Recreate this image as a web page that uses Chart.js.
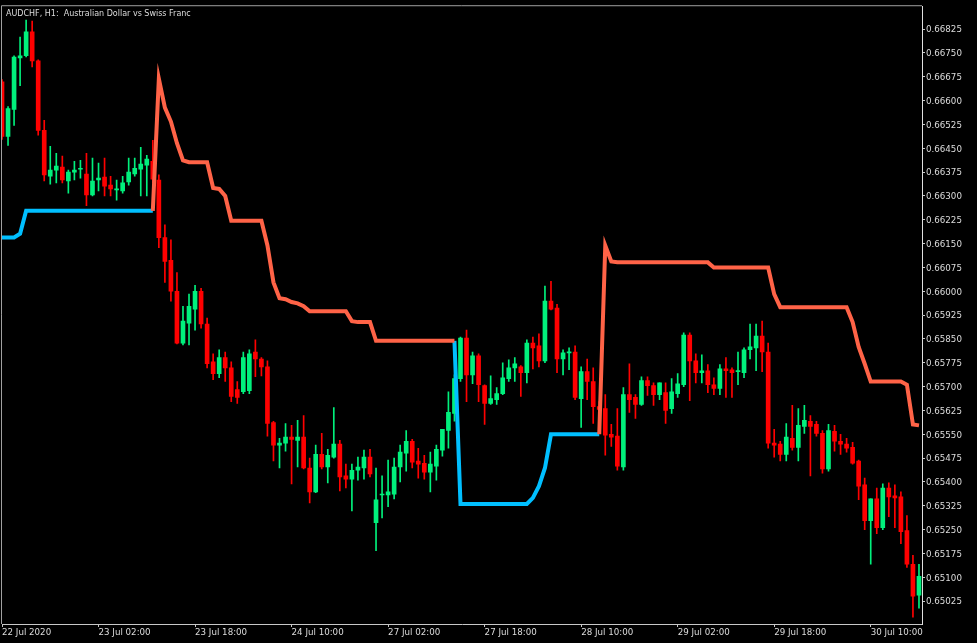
<!DOCTYPE html>
<html>
<head>
<meta charset="utf-8">
<title>AUDCHF H1</title>
<script src="https://cdn.jsdelivr.net/npm/chart.js@4.4.1/dist/chart.umd.min.js"></script>
<style>
html,body{margin:0;padding:0;background:#000;overflow:hidden;}
canvas{display:block;}
</style>
</head>
<body>
<canvas id="chart" width="977" height="643"></canvas>
<script>
const chartTitle = 'AUDCHF, H1:  Australian Dollar vs Swiss Franc';

const opens = [
0.66659,0.66487,0.66572,0.66734,0.66741,0.66816,0.66725,0.66506,0.66362,0.66381,
0.66391,0.66347,0.66375,0.66384,0.66369,0.66303,0.66350,0.66359,0.66334,0.66319,
0.66316,0.66344,0.66369,0.66384,0.66397,0.66409,0.66350,0.66169,0.66097,0.66000,
0.65837,0.65900,0.65944,0.66000,0.65897,0.65778,0.65741,0.65791,0.65759,0.65691,
0.65684,0.65687,0.65809,0.65787,0.65762,0.65587,0.65516,0.65522,0.65541,0.65531,
0.65541,0.65444,0.65369,0.65487,0.65447,0.65478,0.65519,0.65419,0.65409,0.65437,
0.65444,0.65478,0.65272,0.65359,0.65359,0.65362,0.65447,0.65491,0.65528,0.65466,
0.65459,0.65431,0.65450,0.65500,0.65562,0.65616,0.65725,0.65853,0.65737,0.65797,
0.65703,0.65647,0.65659,0.65678,0.65725,0.65759,0.65762,0.65744,0.65837,0.65828,
0.65781,0.65969,0.65947,0.65787,0.65806,0.65809,0.65662,0.65747,0.65716,0.65637,
0.65631,0.65550,0.65544,0.65447,0.65675,0.65666,0.65644,0.65719,0.65703,0.65675,
0.65681,0.65631,0.65678,0.65706,0.65862,0.65781,0.65744,0.65750,0.65706,0.65694,
0.65756,0.65753,0.65747,0.65744,0.65816,0.65822,0.65859,0.65809,0.65522,0.65519,
0.65487,0.65537,0.65509,0.65575,0.65591,0.65581,0.65553,0.65441,0.65559,0.65528,
0.65519,0.65509,0.65466,0.65391,0.65278,0.65347,0.65256,0.65381,0.65356,0.65353,
0.65247,0.65141,0.65044
];
const highs = [
0.66666,0.66581,0.66741,0.66800,0.66853,0.66850,0.66728,0.66538,0.66456,0.66434,
0.66425,0.66381,0.66409,0.66412,0.66434,0.66419,0.66403,0.66419,0.66362,0.66350,
0.66362,0.66419,0.66419,0.66453,0.66428,0.66475,0.66366,0.66209,0.66162,0.66059,
0.65953,0.65991,0.66019,0.66009,0.65916,0.65803,0.65816,0.65809,0.65778,0.65716,
0.65809,0.65816,0.65847,0.65791,0.65781,0.65591,0.65537,0.65584,0.65578,0.65594,
0.65609,0.65475,0.65516,0.65553,0.65503,0.65634,0.65531,0.65456,0.65456,0.65478,
0.65500,0.65503,0.65444,0.65419,0.65469,0.65475,0.65516,0.65562,0.65534,0.65506,
0.65484,0.65494,0.65516,0.65566,0.65684,0.65737,0.65856,0.65878,0.65809,0.65803,
0.65706,0.65734,0.65697,0.65775,0.65784,0.65791,0.65766,0.65847,0.65856,0.65866,
0.66016,0.66031,0.65959,0.65816,0.65822,0.65828,0.65762,0.65787,0.65759,0.65653,
0.65675,0.65581,0.65631,0.65697,0.65772,0.65675,0.65731,0.65731,0.65712,0.65712,
0.65712,0.65725,0.65741,0.65869,0.65869,0.65803,0.65800,0.65769,0.65728,0.65769,
0.65791,0.65759,0.65809,0.65822,0.65897,0.65897,0.65906,0.65837,0.65566,0.65528,
0.65584,0.65641,0.65631,0.65641,0.65609,0.65591,0.65562,0.65581,0.65578,0.65550,
0.65537,0.65525,0.65469,0.65412,0.65347,0.65381,0.65394,0.65397,0.65391,0.65369,
0.65294,0.65169,0.65141
];
const lows = [
0.66478,0.66459,0.66522,0.66647,0.66737,0.66706,0.66491,0.66347,0.66337,0.66341,
0.66341,0.66309,0.66350,0.66356,0.66269,0.66300,0.66316,0.66300,0.66300,0.66287,
0.66309,0.66334,0.66362,0.66300,0.66300,0.66341,0.66137,0.66028,0.65969,0.65834,
0.65831,0.65831,0.65878,0.65884,0.65759,0.65722,0.65728,0.65716,0.65653,0.65647,
0.65678,0.65678,0.65731,0.65734,0.65544,0.65466,0.65444,0.65497,0.65394,0.65447,
0.65441,0.65334,0.65366,0.65441,0.65397,0.65475,0.65372,0.65381,0.65309,0.65406,
0.65409,0.65416,0.65184,0.65287,0.65322,0.65347,0.65400,0.65434,0.65444,0.65412,
0.65409,0.65369,0.65406,0.65481,0.65506,0.65591,0.65716,0.65653,0.65709,0.65653,
0.65581,0.65644,0.65644,0.65675,0.65716,0.65716,0.65669,0.65712,0.65756,0.65762,
0.65775,0.65941,0.65744,0.65737,0.65753,0.65659,0.65572,0.65659,0.65584,0.65616,
0.65484,0.65512,0.65437,0.65437,0.65619,0.65600,0.65641,0.65672,0.65641,0.65659,
0.65584,0.65616,0.65666,0.65700,0.65656,0.65712,0.65712,0.65681,0.65675,0.65675,
0.65666,0.65666,0.65706,0.65728,0.65787,0.65750,0.65747,0.65506,0.65478,0.65466,
0.65466,0.65500,0.65466,0.65553,0.65419,0.65544,0.65428,0.65434,0.65497,0.65487,
0.65494,0.65456,0.65344,0.65250,0.65141,0.65237,0.65250,0.65291,0.65256,0.65206,
0.65131,0.64975,0.65003
];
const closes = [
0.66487,0.66575,0.66737,0.66741,0.66816,0.66725,0.66506,0.66366,0.66381,0.66394,
0.66350,0.66375,0.66381,0.66384,0.66303,0.66347,0.66356,0.66331,0.66322,0.66319,
0.66341,0.66375,0.66387,0.66400,0.66416,0.66353,0.66169,0.66094,0.66000,0.65837,
0.65906,0.65953,0.66000,0.65897,0.65772,0.65741,0.65791,0.65759,0.65669,0.65666,
0.65791,0.65803,0.65787,0.65762,0.65584,0.65516,0.65522,0.65541,0.65534,0.65541,
0.65444,0.65369,0.65487,0.65447,0.65484,0.65519,0.65416,0.65409,0.65437,0.65447,
0.65478,0.65425,0.65344,0.65362,0.65369,0.65447,0.65494,0.65528,0.65462,0.65456,
0.65431,0.65456,0.65503,0.65566,0.65619,0.65725,0.65853,0.65737,0.65797,0.65706,
0.65647,0.65662,0.65678,0.65728,0.65759,0.65772,0.65744,0.65837,0.65822,0.65781,
0.65969,0.65944,0.65787,0.65806,0.65806,0.65666,0.65747,0.65716,0.65637,0.65628,
0.65547,0.65541,0.65450,0.65675,0.65659,0.65644,0.65719,0.65703,0.65675,0.65712,
0.65625,0.65684,0.65709,0.65862,0.65781,0.65744,0.65750,0.65706,0.65694,0.65756,
0.65750,0.65744,0.65747,0.65816,0.65825,0.65859,0.65809,0.65522,0.65516,0.65487,
0.65541,0.65509,0.65578,0.65594,0.65575,0.65553,0.65441,0.65562,0.65528,0.65519,
0.65506,0.65459,0.65387,0.65278,0.65347,0.65256,0.65381,0.65353,0.65350,0.65244,
0.65141,0.65041,0.65103
];

// trailing line below price (blue) and above price (tomato); null where not drawn
const supportLine = [
0.66169,0.66169,0.66169,0.66181,0.66253,0.66253,0.66253,0.66253,0.66253,0.66253,
0.66253,0.66253,0.66253,0.66253,0.66253,0.66253,0.66253,0.66253,0.66253,0.66253,
0.66253,0.66253,0.66253,0.66253,0.66253,0.66253,null,null,null,null,
null,null,null,null,null,null,null,null,null,null,
null,null,null,null,null,null,null,null,null,null,
null,null,null,null,null,null,null,null,null,null,
null,null,null,null,null,null,null,null,null,null,
null,null,null,null,null,0.65844,0.65331,0.65331,0.65331,0.65331,
0.65331,0.65331,0.65331,0.65331,0.65331,0.65331,0.65331,0.65331,0.65350,0.65387,
0.65444,0.65550,0.65550,0.65550,0.65550,0.65550,0.65550,0.65550,0.65550,0.65550,
null,null,null,null,null,null,null,null,null,null,
null,null,null,null,null,null,null,null,null,null,
null,null,null,null,null,null,null,null,null,null,
null,null,null,null,null,null,null,null,null,null,
null,null,null,null,null,null,null,null,null,null,
null,null,null
];
const resistanceLine = [
null,null,null,null,null,null,null,null,null,null,
null,null,null,null,null,null,null,null,null,null,
null,null,null,null,null,0.66253,0.66669,0.66578,0.66534,0.66466,
0.66412,0.66406,0.66406,0.66406,0.66406,0.66325,0.66322,0.66300,0.66222,0.66222,
0.66222,0.66222,0.66222,0.66222,0.66144,0.66028,0.65978,0.65975,0.65966,0.65962,
0.65953,0.65937,0.65937,0.65937,0.65937,0.65937,0.65937,0.65937,0.65906,0.65903,
0.65903,0.65903,0.65844,0.65844,0.65844,0.65844,0.65844,0.65844,0.65844,0.65844,
0.65844,0.65844,0.65844,0.65844,0.65844,0.65844,null,null,null,null,
null,null,null,null,null,null,null,null,null,null,
null,null,null,null,null,null,null,null,null,0.65550,
0.66144,0.66094,0.66091,0.66091,0.66091,0.66091,0.66091,0.66091,0.66091,0.66091,
0.66091,0.66091,0.66091,0.66091,0.66091,0.66091,0.66091,0.66091,0.66075,0.66075,
0.66075,0.66075,0.66075,0.66075,0.66075,0.66075,0.66075,0.66075,0.65991,0.65950,
0.65950,0.65950,0.65950,0.65950,0.65950,0.65950,0.65950,0.65950,0.65950,0.65950,
0.65950,0.65903,0.65825,0.65772,0.65716,0.65716,0.65716,0.65716,0.65716,0.65716,
0.65706,0.65581,0.65578
];

const priceTicks = [0.66825,0.66750,0.66675,0.66600,0.66525,0.66450,0.66375,0.66300,0.66225,
  0.66150,0.66075,0.66000,0.65925,0.65850,0.65775,0.65700,0.65625,0.65550,0.65475,
  0.65400,0.65325,0.65250,0.65175,0.65100,0.65025];
const timeTickBars = [0,16,32,48,64,80,96,112,128,144];
const timeTickLabels = ['22 Jul 2020','23 Jul 02:00','23 Jul 18:00','24 Jul 10:00','27 Jul 02:00',
  '27 Jul 18:00','28 Jul 10:00','29 Jul 02:00','29 Jul 18:00','30 Jul 10:00'];

const BULL = '#00F07C';
const BEAR = '#FF0000';
const TEXT = '#DCDCDC';
const AXIS_FONT = {family: '"DejaVu Sans", sans-serif', size: 8.7};

const barIdx = opens.map((_, i) => i);
const candleColors = barIdx.map(i => closes[i] >= opens[i] ? BULL : BEAR);

const framePlugin = {
  id: 'frame',
  afterDraw(chart) {
    const {ctx, chartArea: a} = chart;
    ctx.save();
    ctx.strokeStyle = '#A0A0A0';
    ctx.lineWidth = 1;
    ctx.beginPath();
    ctx.moveTo(a.left - 0.5, a.bottom);
    ctx.lineTo(a.left - 0.5, a.top - 0.5);
    ctx.lineTo(a.right, a.top - 0.5);
    ctx.stroke();
    ctx.fillStyle = TEXT;
    ctx.font = '8px "DejaVu Sans", sans-serif';
    ctx.textBaseline = 'alphabetic';
    ctx.textAlign = 'left';
    ctx.fillText(chartTitle, a.left + 4, a.top + 10);
    ctx.restore();
  }
};

new Chart(document.getElementById('chart'), {
  type: 'bar',
  data: {
    datasets: [
      {
        type: 'line', label: 'Upper trail',
        data: barIdx.map(i => ({x: i, y: resistanceLine[i]})),
        borderColor: '#FF6347', borderWidth: 4, pointRadius: 0, spanGaps: false, tension: 0,
        order: 0
      },
      {
        type: 'line', label: 'Lower trail',
        data: barIdx.map(i => ({x: i, y: supportLine[i]})),
        borderColor: '#00BFFF', borderWidth: 4, pointRadius: 0, spanGaps: false, tension: 0,
        order: 0
      },
      {
        type: 'bar', label: 'Bodies',
        data: barIdx.map(i => ({x: i, y: [opens[i], closes[i]]})),
        backgroundColor: candleColors, borderWidth: 0, barThickness: 4, minBarLength: 1,
        grouped: false, order: 1
      },
      {
        type: 'bar', label: 'Wicks',
        data: barIdx.map(i => ({x: i, y: [lows[i], highs[i]]})),
        backgroundColor: candleColors, borderWidth: 0, barThickness: 1,
        grouped: false, order: 2
      }
    ]
  },
  options: {
    responsive: false,
    animation: false,
    devicePixelRatio: 1,
    layout: {padding: {left: 2, top: 2, right: 0, bottom: 0}},
    plugins: {legend: {display: false}, tooltip: {enabled: false}, title: {display: false}},
    scales: {
      x: {
        type: 'linear', position: 'bottom', min: 0, max: 152.5, offset: false,
        afterBuildTicks: s => { s.ticks = timeTickBars.map(v => ({value: v})); },
        afterFit: s => { s.height = 19; },
        grid: {display: true, drawOnChartArea: false, drawTicks: true, tickLength: 3, color: '#C8C8C8', offset: false},
        border: {display: true, color: '#C8C8C8'},
        ticks: {
          autoSkip: false, maxRotation: 0, minRotation: 0, align: 'start', padding: 1,
          color: TEXT, font: AXIS_FONT,
          callback: v => { const k = timeTickBars.indexOf(v); return k >= 0 ? timeTickLabels[k] : ''; }
        }
      },
      y: {
        type: 'linear', position: 'right', min: 0.64953125, max: 0.66896875, beginAtZero: false,
        afterBuildTicks: s => { s.ticks = priceTicks.map(v => ({value: v})); },
        afterFit: s => { s.width = 55; },
        grid: {display: true, drawOnChartArea: false, drawTicks: true, tickLength: 3, color: '#C8C8C8'},
        border: {display: true, color: '#E0E0E0'},
        ticks: {padding: 1, color: TEXT, font: AXIS_FONT, labelOffset: 1, callback: v => v.toFixed(5)}
      }
    }
  },
  plugins: [framePlugin]
});
</script>
</body>
</html>
